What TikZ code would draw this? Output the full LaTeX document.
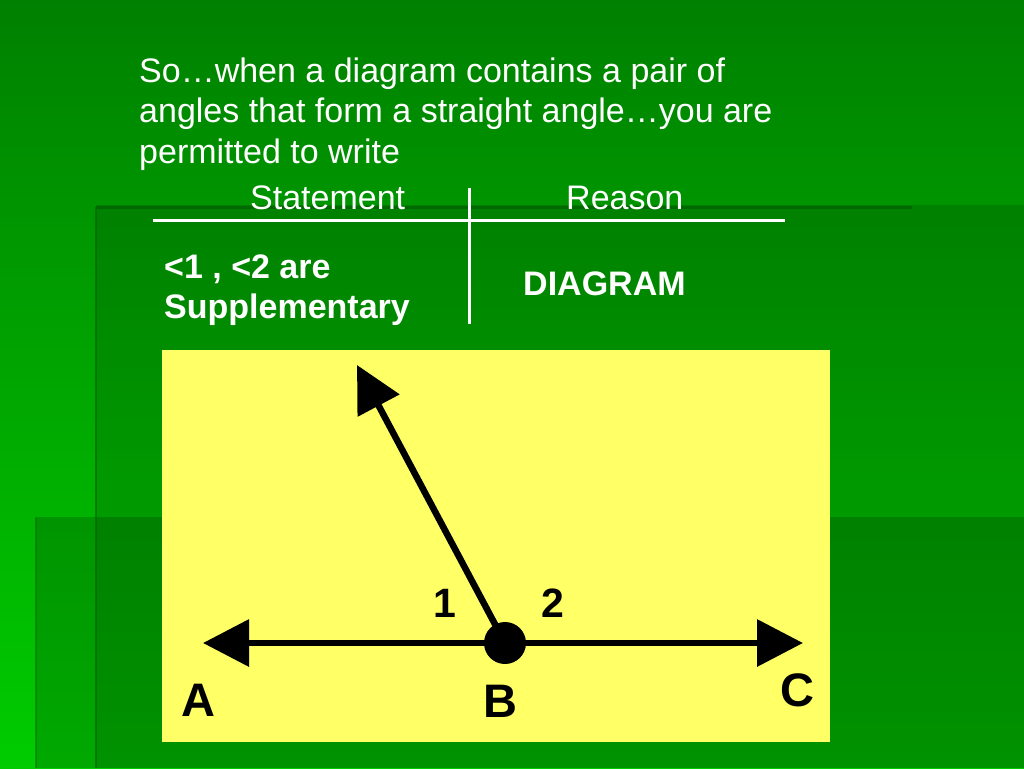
\documentclass[tikz,border=0pt]{standalone}
\usepackage{fontspec}
\setmainfont{Liberation Sans}
\usetikzlibrary{arrows.meta}
\definecolor{gtop}{RGB}{0,128,0}
\definecolor{gbot}{RGB}{0,204,0}
\definecolor{gedge}{RGB}{0,104,0}
\definecolor{pad}{RGB}{255,255,102}
\tikzset{
  txt/.style={text=white,inner sep=0pt,font=\fontsize{34}{41}\selectfont},
  btxt/.style={txt,font=\fontsize{34}{40}\selectfont\bfseries},
  rule/.style={draw=white,line width=3pt},
  ray/.style={line width=6.5pt,black,-{Triangle[length=46pt,width=46pt]}},
  lbl/.style={inner sep=0pt,text=black,font=\fontsize{47}{47}\selectfont\bfseries},
  num/.style={inner sep=0pt,text=black,font=\fontsize{41}{41}\selectfont\bfseries},
}
\begin{document}
\begin{tikzpicture}[x=1pt,y=-1pt]
\useasboundingbox (0,0) rectangle (1024,768);
% background
\shade[top color=gtop,bottom color=gbot] (0,0) rectangle (1024,768);
\fill[black,opacity=0.13] (96,205) rectangle (1024,768);
\fill[black,opacity=0.17] (36,517) rectangle (1024,768);
\draw[gedge,line width=3pt] (96,207) -- (912,207);
\draw[gedge,opacity=0.7,line width=2pt] (96,207) -- (96,768);
\draw[gedge,opacity=0.5,line width=2pt] (36,517) -- (36,768);
% intro text
\node[txt,anchor=base west] (l1) at (139,82) {So…when a diagram contains a pair of};
\node[txt,anchor=base west] (l2) at (139,122) {angles that form a straight angle…you are};
\node[txt,anchor=base west] (l3) at (139,163) {permitted to write};
% table
\node[txt,anchor=base west] (st) at (250,209) {Statement};
\node[txt,anchor=base west] (re) at (566,209) {Reason};
\coordinate (hl) at (153,220);
\coordinate (hr) at (785,220);
\coordinate (vt) at (469,188);
\coordinate (vb) at (469,324);
\draw[rule] (hl) -- (hr);
\draw[rule] (vt) -- (vb);
\node[btxt,anchor=base west] (s1) at (164,278) {<1 , <2 are};
\node[btxt,anchor=base west] (s2) at (164,318) {Supplementary};
\node[btxt,anchor=base west] (dg) at (523,295) {DIAGRAM};
% yellow panel
\fill[pad] (162,350) rectangle (830,742);
\coordinate (B) at (505,643);
\coordinate (A) at (203,643);
\coordinate (C) at (803,643);
\coordinate (T) at (357,365);
\draw[ray] (B) -- (A);
\draw[ray] (B) -- (C);
\draw[ray] (B) -- (T);
\fill[black] (B) circle (21);
\node[lbl,anchor=base] (la) at (198,716) {A};
\node[lbl,anchor=base] (lb) at (500,717) {B};
\node[lbl,anchor=base] (lc) at (797,706) {C};
\node[num,anchor=base] (n1) at (445,617) {1};
\node[num,anchor=base] (n2) at (553,617) {2};
\end{tikzpicture}
\end{document}
